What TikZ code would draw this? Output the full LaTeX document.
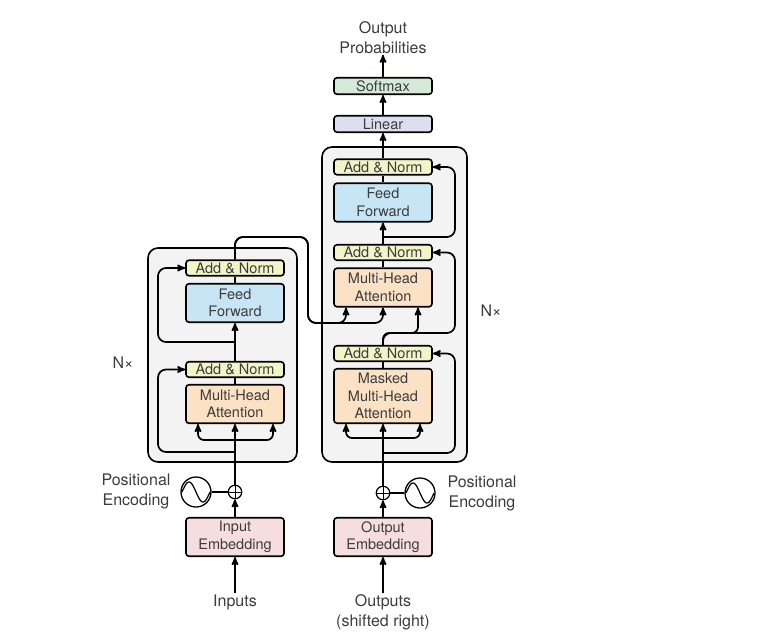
\documentclass[tikz,border=0pt]{standalone}
\usepackage{fontspec}
\setmainfont{TeX Gyre Heros}
\usetikzlibrary{arrows}
\definecolor{normyellow}{RGB}{243,245,200}
\definecolor{ffblue}{RGB}{199,229,245}
\definecolor{attnorange}{RGB}{251,226,196}
\definecolor{embpink}{RGB}{246,222,222}
\definecolor{linpurple}{RGB}{221,223,240}
\definecolor{softgreen}{RGB}{212,234,214}
\definecolor{layergray}{RGB}{243,243,243}
\definecolor{labelgray}{RGB}{60,60,60}

\begin{document}
\begin{tikzpicture}[x=1pt,y=-1pt,>=stealth',
	blk/.style={draw=black,line width=1.6pt,rounded corners=3pt,minimum width=98pt,inner sep=0pt,align=center,text=labelgray,font=\fontsize{14.5}{17.5}\selectfont},
	addnorm/.style={blk,fill=normyellow,minimum height=15.5pt},
	ffwd/.style={blk,fill=ffblue,minimum height=38.5pt},
	attn/.style={blk,fill=attnorange,minimum height=38.5pt},
	embed/.style={blk,fill=embpink,minimum height=38.5pt},
	layer/.style={draw=black,fill=layergray,line width=1.6pt,rounded corners=10pt},
	lbl/.style={align=center,text=labelgray,inner sep=1pt,font=\fontsize{16}{20}\selectfont},
	arr/.style={->,line width=1.7pt},
	wire/.style={line width=1.7pt},
	sumc/.style={circle,draw,line width=1.2pt,fill=white,minimum size=13.5pt,inner sep=0pt,
		path picture={\draw[line width=1pt] (path picture bounding box.north) -- (path picture bounding box.south)
			(path picture bounding box.west) -- (path picture bounding box.east);}},
	pec/.style={circle,draw,line width=1.3pt,fill=white,minimum size=30pt,inner sep=0pt}]
	\useasboundingbox (0,0) rectangle (768,640);

	% encoder and decoder stacks
	\draw[layer] (148,248) rectangle (297,462);
	\draw[layer] (322,147) rectangle (467,462);

	% encoder side
	\node (inputs) at (235,602)[lbl]{Inputs};
	\node (encemb) at (235,537)[embed]{Input\\Embedding};
	\node (encadd) at (235,492)[sumc]{};
	\node (encpe) at (196,492)[pec]{};
	\draw[line width=1.2pt,shift={(encpe.center)}] plot[domain=-1:1,samples=40,smooth] ({14*\x},{10*sin(180*\x)});
	\node (encpelbl) at (136,491)[lbl]{Positional\\Encoding};
	\node (encmha) at (235,404)[attn]{Multi-Head\\Attention};
	\node (encan1) at (235,369.5)[addnorm]{Add \& Norm};
	\node (encff) at (235,303)[ffwd]{Feed\\Forward};
	\node (encan2) at (235,268)[addnorm]{Add \& Norm};
	\node (encn) at (123,363)[lbl]{N×};

	\coordinate (encres1) at (235,452);
	\coordinate (encfork) at (235,440);
	\coordinate (encres2) at (235,342);

	\draw[arr] (inputs.north) -- (encemb.south);
	\draw[arr] (encemb.north) -- (encadd.south);
	\draw[wire] (encpe.east) -- (encadd.west);
	\draw[arr] (encadd.north) -- (encmha.south);
	\draw[arr,rounded corners=6] (encfork) -| ([xshift=-37pt]encmha.south);
	\draw[arr,rounded corners=6] (encfork) -| ([xshift=38pt]encmha.south);
	\draw[arr,rounded corners=8] (encres1) -- (158,452) |- (encan1.west);
	\draw[wire] (encmha.north) -- (encan1.south);
	\draw[arr] (encan1.north) -- (encff.south);
	\draw[arr,rounded corners=8] (encres2) -- (158,342) |- (encan2.west);
	\draw[wire] (encff.north) -- (encan2.south);

	% decoder side
	\node (outputs) at (383,612)[lbl]{Outputs\\(shifted right)};
	\node (decemb) at (383,537)[embed]{Output\\Embedding};
	\node (decadd) at (383,493)[sumc]{};
	\node (decpe) at (420,493)[pec]{};
	\draw[line width=1.2pt,shift={(decpe.center)}] plot[domain=-1:1,samples=40,smooth] ({14*\x},{10*sin(180*\x)});
	\node (decpelbl) at (482,493)[lbl]{Positional\\Encoding};
	\node (decmmha) at (383,396)[attn,minimum height=54.5pt]{Masked\\Multi-Head\\Attention};
	\node (decan1) at (383,353.5)[addnorm]{Add \& Norm};
	\node (decmha) at (383,287.5)[attn]{Multi-Head\\Attention};
	\node (decan2) at (383,252.5)[addnorm]{Add \& Norm};
	\node (decff) at (383,202.5)[ffwd]{Feed\\Forward};
	\node (decan3) at (383,167)[addnorm]{Add \& Norm};
	\node (linear) at (383,124)[blk,fill=linpurple,minimum height=16.5pt]{Linear};
	\node (softmax) at (383,86)[blk,fill=softgreen,minimum height=16.5pt]{Softmax};
	\node (outprob) at (383,37.5)[lbl]{Output\\Probabilities};
	\node (decn) at (491,311)[lbl]{N×};

	\coordinate (decres1) at (383,453);
	\coordinate (decfork) at (383,438);
	\coordinate (decres3) at (383,237);

	\draw[arr] (outputs.north) -- (decemb.south);
	\draw[arr] (decemb.north) -- (decadd.south);
	\draw[wire] (decpe.west) -- (decadd.east);
	\draw[arr] (decadd.north) -- (decmmha.south);
	\draw[arr,rounded corners=6] (decfork) -| ([xshift=-37pt]decmmha.south);
	\draw[arr,rounded corners=6] (decfork) -| ([xshift=37pt]decmmha.south);
	\draw[arr,rounded corners=8] (decres1) -- (455,453) |- (decan1.east);
	\draw[wire] (decmmha.north) -- (decan1.south);
	\draw[arr,rounded corners=8] (decan1.north) |- (455,333) |- (decan2.east);
	\draw[arr,rounded corners=6] (decan1.north) |- (418,333) -- ([xshift=35pt]decmha.south);
	\draw[wire] (decmha.north) -- (decan2.south);
	\draw[arr] (decan2.north) -- (decff.south);
	\draw[arr,rounded corners=8] (decres3) -- (455,237) |- (decan3.east);
	\draw[wire] (decff.north) -- (decan3.south);
	\draw[arr] (decan3.north) -- (linear.south);
	\draw[arr] (linear.north) -- (softmax.south);
	\draw[arr] (softmax.north) -- (outprob.south);

	% encoder output into decoder attention
	\draw[arr,rounded corners=8] (encan2.north) |- (308,237) -- (308,323) -| ([xshift=-37pt]decmha.south);
	\draw[arr,rounded corners=8] (encan2.north) |- (308,237) -- (308,323) -| (decmha.south);
\end{tikzpicture}
\end{document}
